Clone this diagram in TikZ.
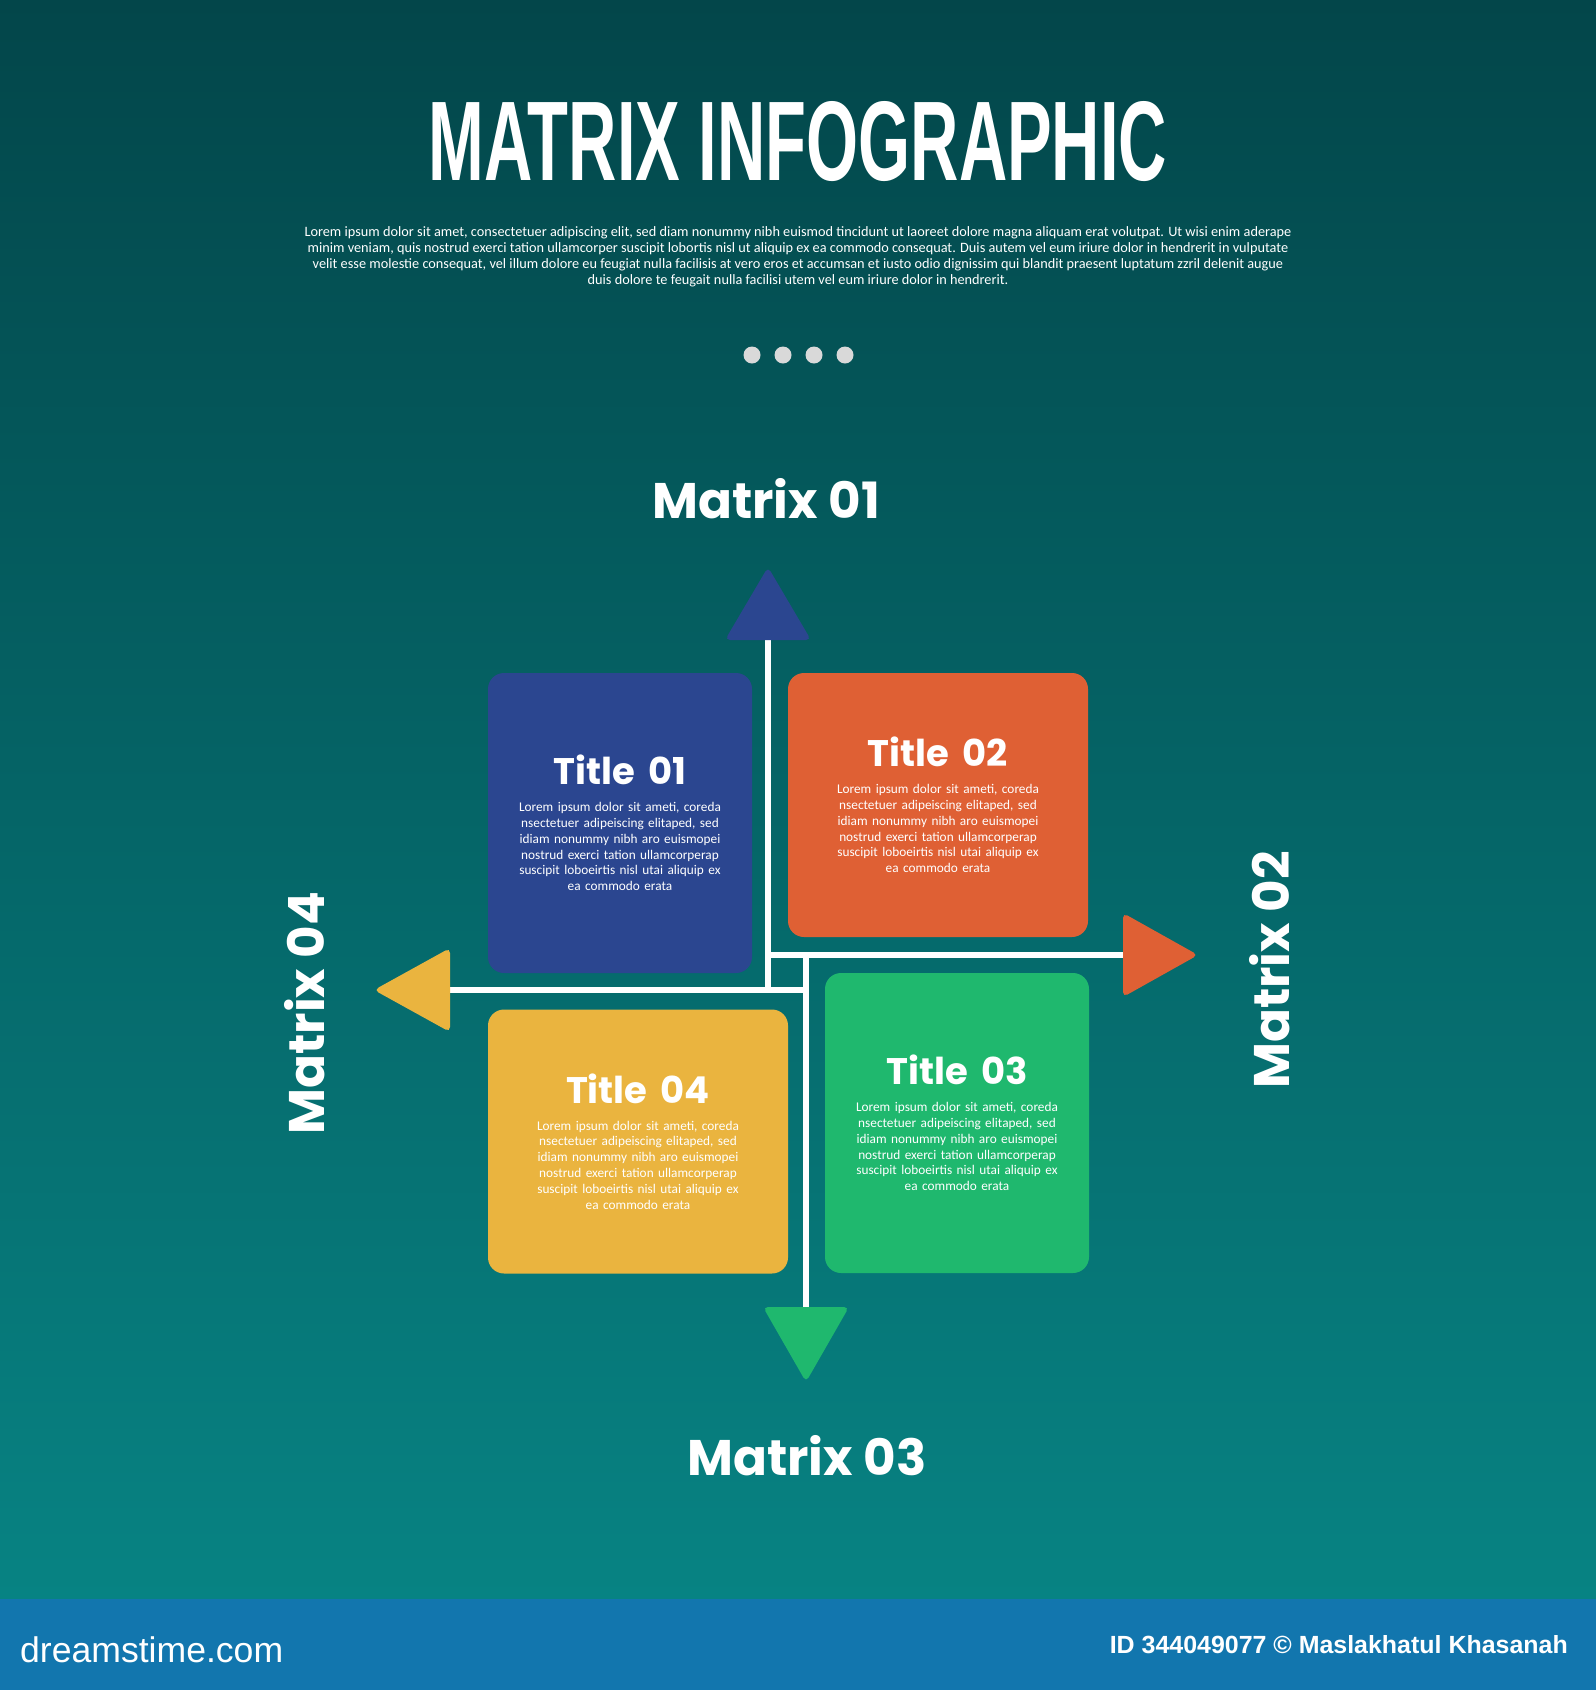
\documentclass[tikz,border=0pt]{standalone}
\usepackage{graphicx}
\usepackage{fontspec}
\setmainfont{Carlito}
\newfontfamily\poppins{Poppins}
\newfontfamily\headsans{Liberation Sans}
\usetikzlibrary{calc}
\definecolor{bgtop}{HTML}{03464A}
\definecolor{bgmid}{HTML}{096A6B}
\definecolor{bgbot}{HTML}{078383}
\definecolor{barblue}{HTML}{1276AE}
\definecolor{matblue}{HTML}{2B4690}
\definecolor{matorange}{HTML}{DF6034}
\definecolor{matgreen}{HTML}{1FB86E}
\definecolor{matyellow}{HTML}{EAB43F}
\definecolor{dotgray}{HTML}{D9D9D9}

\newcommand{\celltitle}[1]{{\poppins\bfseries\fontsize{37}{37}\selectfont\spaceskip=0.36em #1}\\[11pt]}
\newcommand{\loremcell}{Lorem ipsum dolor sit ameti, coreda\\ nsectetuer adipeiscing elitaped, sed\\ idiam nonummy nibh aro euismopei\\ nostrud exerci tation ullamcorperap\\ suscipit loboeirtis nisl utai aliquip ex\\ ea commodo erata}

\begin{document}
\begin{tikzpicture}[x=1pt, y=-1pt,
    cell/.style={rounded corners=16pt, minimum width=264pt, minimum height=300pt,
        inner sep=0pt, text width=256pt, align=center, text=white,
        font=\fontsize{13.3}{15.8}\selectfont},
    widecell/.style={minimum width=300pt, minimum height=264pt},
    axisline/.style={draw=white, line width=6pt},
    axislabel/.style={text=white, font=\poppins\bfseries\fontsize{50}{56}\selectfont}]
    \useasboundingbox (0,0) rectangle (1596,1690);

    % Background
    \shade[top color=bgtop, middle color=bgmid, bottom color=bgbot] (0,0) rectangle (1596,1599);
    \fill[barblue] (0,1599) rectangle (1596,1690);

    % Heading
    \node[text=white, inner sep=0pt] (headline) at (798,141.5)
        {\resizebox{738pt}{79pt}{\headsans\bfseries MATRIX INFOGRAPHIC}};
    \node[text=white, align=center, font=\fontsize{14.3}{16}\selectfont] (intro) at (798,257) {%
        Lorem ipsum dolor sit amet, consectetuer adipiscing elit, sed diam nonummy nibh euismod tincidunt ut laoreet dolore magna aliquam erat volutpat. Ut wisi enim aderape\\
        minim veniam, quis nostrud exerci tation ullamcorper suscipit lobortis nisl ut aliquip ex ea commodo consequat. Duis autem vel eum iriure dolor in hendrerit in vulputate\\
        velit esse molestie consequat, vel illum dolore eu feugiat nulla facilisis at vero eros et accumsan et iusto odio dignissim qui blandit praesent luptatum zzril delenit augue\\
        duis dolore te feugait nulla facilisi utem vel eum iriure dolor in hendrerit.};
    \foreach \x in {752,783,814,845} {
        \fill[dotgray] (\x,355) circle[radius=8.5pt];
    }

    % Cells
    \node[cell, fill=matblue] (cell1) at (620,823) {\celltitle{Title 01}\loremcell};
    \node[cell, widecell, fill=matorange] (cell2) at (938,805) {\celltitle{Title 02}\loremcell};
    \node[cell, fill=matgreen] (cell3) at (957,1123) {\celltitle{Title 03}\loremcell};
    \node[cell, widecell, fill=matyellow] (cell4) at (638,1141.5) {\celltitle{Title 04}\loremcell};

    % Axes
    \coordinate (nw) at (768,990);
    \coordinate (ne) at (768,955);
    \coordinate (se) at (806,955);
    \coordinate (sw) at (806,990);
    \coordinate (upb) at (768,640);
    \coordinate (rtb) at (1123,955);
    \coordinate (dnb) at (806,1307);
    \coordinate (ltb) at (450,990);
    \draw[axisline] (nw) -- (upb);
    \draw[axisline] (ne) -- (rtb);
    \draw[axisline] (se) -- (dnb);
    \draw[axisline] (sw) -- (ltb);

    % Arrowheads
    \fill[matblue, rounded corners=5pt] ($(upb)+(-43,0)$) -- ($(upb)+(0,-73)$) -- ($(upb)+(43,0)$) -- cycle;
    \fill[matorange, rounded corners=5pt] ($(rtb)+(0,-42)$) -- ($(rtb)+(75,0)$) -- ($(rtb)+(0,42)$) -- cycle;
    \fill[matgreen, rounded corners=5pt] ($(dnb)+(-43,0)$) -- ($(dnb)+(0,75)$) -- ($(dnb)+(43,0)$) -- cycle;
    \fill[matyellow, rounded corners=5pt] ($(ltb)+(0,-42)$) -- ($(ltb)+(-76,0)$) -- ($(ltb)+(0,42)$) -- cycle;

    % Axis labels
    \node[axislabel] (lab1) at (766,499) {Matrix 01};
    \node[axislabel, rotate=90] (lab2) at (1270,970) {Matrix 02};
    \node[axislabel] (lab3) at (807,1456) {Matrix 03};
    \node[axislabel, rotate=90] (lab4) at (305,1013) {Matrix 04};

    % Footer
    \node[text=white, anchor=west, inner sep=0pt] (site) at (20,1650)
        {\resizebox{263pt}{!}{\headsans dreamstime.com}};
    \node[text=white, anchor=east, inner sep=0pt] (credit) at (1568,1645)
        {\resizebox{458pt}{18pt}{\headsans\bfseries ID 344049077 © Maslakhatul Khasanah}};
\end{tikzpicture}
\end{document}
